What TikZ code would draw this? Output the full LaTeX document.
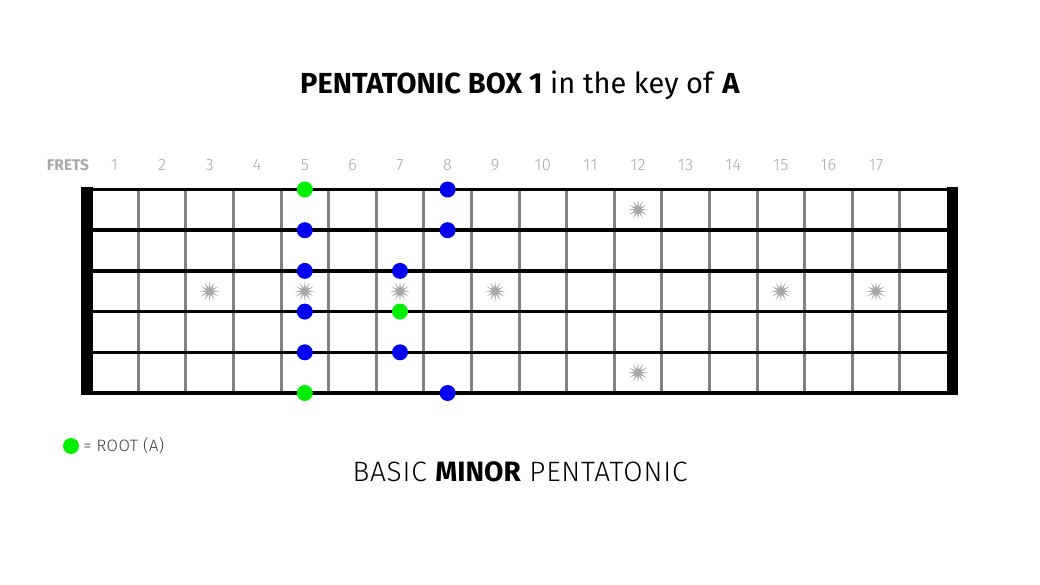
\documentclass[tikz,border=0pt]{standalone}
\usepackage{fontspec}
\setmainfont{Fira Sans}
\newfontfamily\lightfont[LetterSpace=3]{Fira Sans Light}
\usetikzlibrary{shapes.geometric}
\usetikzlibrary{positioning}
\definecolor{rootgreen}{RGB}{0,238,0}
\definecolor{noteblue}{RGB}{0,0,238}
\definecolor{fretgray}{RGB}{130,130,130}
\definecolor{labelgray}{RGB}{168,168,168}
\definecolor{legendgray}{RGB}{60,60,60}
\tikzset{x=1pt, y=-1pt,
  note/.style={ % Sets the properties for each scale note
    circle, fill=noteblue, inner sep=0pt, minimum size=16pt},
  root/.style={note, fill=rootgreen},
  inlay/.style={star, star points=12, star point ratio=3,
    fill=labelgray, inner sep=0pt, minimum size=20pt},
  fretnum/.style={text=labelgray, font=\fontsize{16.5}{16}\lightfont},
  stringline/.style={line width=3.5pt, black},
  fretline/.style={line width=3pt, fretgray}}

\begin{document}
\begin{tikzpicture}
  \useasboundingbox (0,0) rectangle (1040,585);

  \node (title) at (520,85) {\fontsize{29}{29}\selectfont
    \textbf{PENTATONIC BOX 1} in the key of \textbf{A}};

  % fret numbers
  \node [fretnum, font=\fontsize{15.5}{16}\selectfont\bfseries] (frets) at (68,165) {FRETS};
  \foreach \k in {1,...,17}
    \node [fretnum] (num\k) at ({66.8+47.6*\k},165) {\k};

  % frets
  \foreach \k in {1,...,17}
    \draw [fretline] ({90.6+47.6*\k},189.5) -- ({90.6+47.6*\k},393);

  % strings
  \foreach \s in {0,...,5}
    \draw [stringline] (85,{189.5+40.7*\s}) -- (955,{189.5+40.7*\s});

  % nut and end
  \fill (81,187) rectangle (93,395);
  \fill (947,187) rectangle (958,395);

  % inlays
  \foreach \k in {3,5,7,9,15,17}
    \node [inlay] (inlay\k) at ({66.8+47.6*\k},291.3) {};
  \node [inlay] (inlay12a) at ({66.8+47.6*12},209.8) {};
  \node [inlay] (inlay12b) at ({66.8+47.6*12},372.7) {};

  % scale notes
  \node [root] (f5s1) at (304.8,189.5) {};
  \node [note] (f8s1) at (447.6,189.5) {};
  \node [note] (f5s2) at (304.8,230.2) {};
  \node [note] (f8s2) at (447.6,230.2) {};
  \node [note] (f5s3) at (304.8,270.9) {};
  \node [note] (f7s3) at (400.0,270.9) {};
  \node [note] (f5s4) at (304.8,311.6) {};
  \node [root] (f7s4) at (400.0,311.6) {};
  \node [note] (f5s5) at (304.8,352.3) {};
  \node [note] (f7s5) at (400.0,352.3) {};
  \node [root] (f5s6) at (304.8,393.0) {};
  \node [note] (f8s6) at (447.6,393.0) {};

  % legend
  \node [root] (key) at (71,446) {};
  \node [right=4pt of key, inner sep=0pt, text=legendgray, font=\fontsize{16.5}{16}\lightfont] (keytext) {= ROOT (A)};

  \node (subtitle) at (520,472) {\fontsize{28}{28}\selectfont
    \lightfont BASIC {\normalfont\bfseries MINOR} PENTATONIC};
\end{tikzpicture}
\end{document}
